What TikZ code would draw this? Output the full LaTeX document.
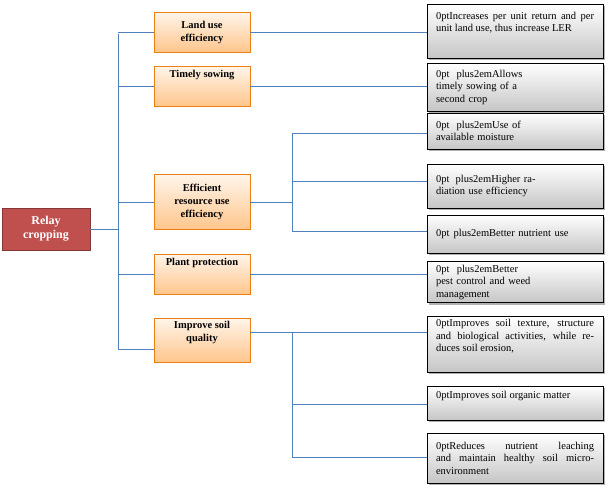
\documentclass[tikz,border=0pt]{standalone}
\usepackage{fontspec}
\setmainfont{Liberation Serif}
\usetikzlibrary{shadows}
\definecolor{lnk}{HTML}{4F81BD}
\definecolor{rootc}{HTML}{C0504D}
\begin{document}
\begin{tikzpicture}[x=1pt,y=-1pt,
  mid/.style={draw=orange!70!brown,top color=orange!8,bottom color=orange!45,
    minimum width=96pt,align=center,font=\fontsize{10.5}{13}\selectfont\bfseries},
  res/.style={draw=black,thick,top color=white,bottom color=gray!45,
    drop shadow={shadow xshift=2pt,shadow yshift=-2pt,fill=black!60},
    minimum width=176pt,text width=158pt,align=justify,
    font=\fontsize{10.5}{12.5}\selectfont\hyphenpenalty=10000},
  ctr/.style={align=center},
  con/.style={draw=lnk,line width=1pt}]
\useasboundingbox (0,0) rectangle (609,491);
\node[fill=rootc,draw=rootc!70!black,text=white,minimum width=88pt,minimum height=42pt,
  align=center,font=\fontsize{12}{14}\selectfont\bfseries] (root) at (46,229) {Relay\\cropping};
\node[mid,minimum height=40pt] (m1) at (202,32) {Land use\\efficiency};
\node[mid,minimum height=40pt] (m2) at (202,86) {Timely sowing\\[12pt]};
\node[mid,minimum height=55pt] (m3) at (202,202) {Efficient\\resource use\\efficiency};
\node[mid,minimum height=40pt] (m4) at (202,274) {Plant protection\\[12pt]};
\node[mid,minimum height=36pt] (m5) at (202,340) {Improve soil\\quality\\[4pt]};
\node[res,minimum height=54pt] (r1) at (515,31) {Increases per unit return and per unit land use, thus increase LER\\[6pt]};
\node[res,ctr,minimum height=48pt] (r2) at (515,87) {Allows timely sowing of a\\second crop\\[6pt]};
\node[res,ctr,minimum height=36pt] (r3) at (515,131) {Use of available moisture\\[6pt]};
\node[res,ctr,minimum height=44pt] (r4) at (515,186) {Higher radiation use efficiency};
\node[res,ctr,minimum height=38pt] (r5) at (515,234) {Better nutrient use};
\node[res,ctr,minimum height=40pt] (r6) at (515,282) {Better pest control and weed\\management};
\node[res,minimum height=56pt] (r7) at (515,344) {Improves soil texture, structure and biological activities, while reduces soil erosion,\\[4pt]};
\node[res,minimum height=34pt] (r8) at (515,403) {Improves soil organic matter\\[4pt]};
\node[res,minimum height=50pt] (r9) at (515,458) {Reduces nutrient leaching and maintain healthy soil micro-\linebreak environment};
\coordinate (t1) at (118,34);
\coordinate (t2) at (118,349);
\draw[con] (t1) -- (t2);
\draw[con] (root.east) -- (root.east -| t1);
\foreach \m in {m1,m2,m3,m4}{\draw[con] (\m.west -| t1) -- (\m.west);}
\draw[con] (t2) -- (t2 -| m5.west);
\draw[con] (m1.east) -- (m1.east -| r1.west);
\draw[con] (m2.east) -- (m2.east -| r2.west);
\draw[con] (m4.east) -- (m4.east -| r6.west);
\coordinate (b1) at (292,133);
\coordinate (b2) at (292,231);
\draw[con] (m3.east) -- (m3.east -| b1);
\draw[con] (b1) -- (b2);
\foreach \r/\y in {r3/133,r4/181,r5/231}{\draw[con] (292,\y) -- (\r.west |- 0,\y);}
\coordinate (c1) at (292,332);
\coordinate (c2) at (292,457);
\draw[con] (m5.east |- c1) -- (c1) -- (c2);
\foreach \r/\y in {r7/332,r8/404,r9/457}{\draw[con] (292,\y) -- (\r.west |- 0,\y);}
\end{tikzpicture}
\end{document}
